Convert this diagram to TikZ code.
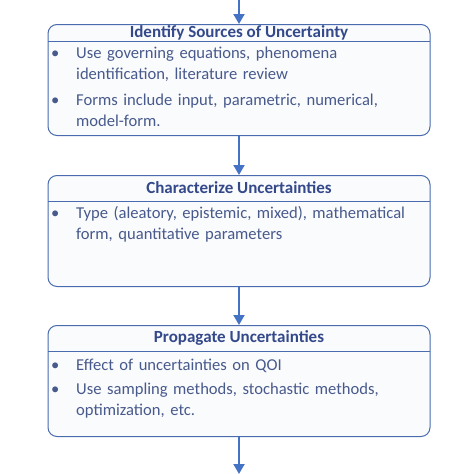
\documentclass[tikz,border=0pt]{standalone}
\usepackage{fontspec}
\setmainfont{Carlito}
\usepackage{tikz}
\usepackage{xcolor}
\usetikzlibrary{positioning,arrows.meta}
\definecolor{FlowBlue}{HTML}{4472C4}
\definecolor{FlowBorder}{HTML}{4A6BAE}
\definecolor{FlowTitle}{HTML}{34498A}
\definecolor{FlowText}{HTML}{485A8C}
\definecolor{FlowFill}{HTML}{FAFBFD}
\tikzset{
  stagebox/.style={draw=FlowBorder, line width=1pt, rounded corners=9pt, fill=FlowFill,
    minimum width=382pt, minimum height=111pt, anchor=north},
  stagetitle/.style={font=\fontsize{17}{20}\selectfont\bfseries, text=FlowTitle, inner sep=0pt},
  stagebody/.style={font=\fontsize{16.6}{21}\selectfont, text=FlowText, text width=370pt,
    align=left, inner sep=0pt, anchor=north west},
  flowarrow/.style={FlowBlue, line width=2pt, -{Triangle[length=10pt,width=11pt]}}
}
\newcommand{\bitem}[1]{{\hangindent=25pt\hangafter=1\noindent\makebox[25pt][l]{\textbullet}#1\par}}

\begin{document}
\begin{tikzpicture}[x=1pt,y=-1pt]
  \useasboundingbox (0,0) rectangle (474,474);

  % Boxes
  \node[stagebox] (identify) at (239,24) {};
  \node[stagebox] (characterize) at (239,175) {};
  \node[stagebox] (propagate) at (239,325) {};

  % Titles and dividers
  \node[stagetitle] (identifytitle) at (239,32.5) {Identify Sources of Uncertainty};
  \draw[FlowBorder, line width=1pt] (48,41) -- (430,41);
  \node[stagetitle] (characterizetitle) at (239,188) {Characterize Uncertainties};
  \draw[FlowBorder, line width=1pt] (48,201) -- (430,201);
  \node[stagetitle] (propagatetitle) at (239,338) {Propagate Uncertainties};
  \draw[FlowBorder, line width=1pt] (48,351) -- (430,351);

  % Bullet text
  \node[stagebody] (identifybody) at (51,47) {%
    \bitem{Use governing equations, phenomena\newline identification, literature review}
    \vspace{5pt}
    \bitem{Forms include input, parametric, numerical,\newline model-form.}};
  \node[stagebody] (characterizebody) at (51,206) {%
    \bitem{Type (aleatory, epistemic, mixed), mathematical\newline form, quantitative parameters}};
  \node[stagebody] (propagatebody) at (51,359) {%
    \bitem{Effect of uncertainties on QOI}
    \vspace{3pt}
    \bitem{Use sampling methods, stochastic methods,\newline optimization, etc.}};

  % Arrows
  \coordinate (start) at (239,0);
  \coordinate (finish) at (239,474);
  \draw[flowarrow] (start) -- (identify.north);
  \draw[flowarrow] (identify.south) -- (characterize.north);
  \draw[flowarrow] (characterize.south) -- (propagate.north);
  \draw[flowarrow] (propagate.south) -- (finish);
\end{tikzpicture}
\end{document}
